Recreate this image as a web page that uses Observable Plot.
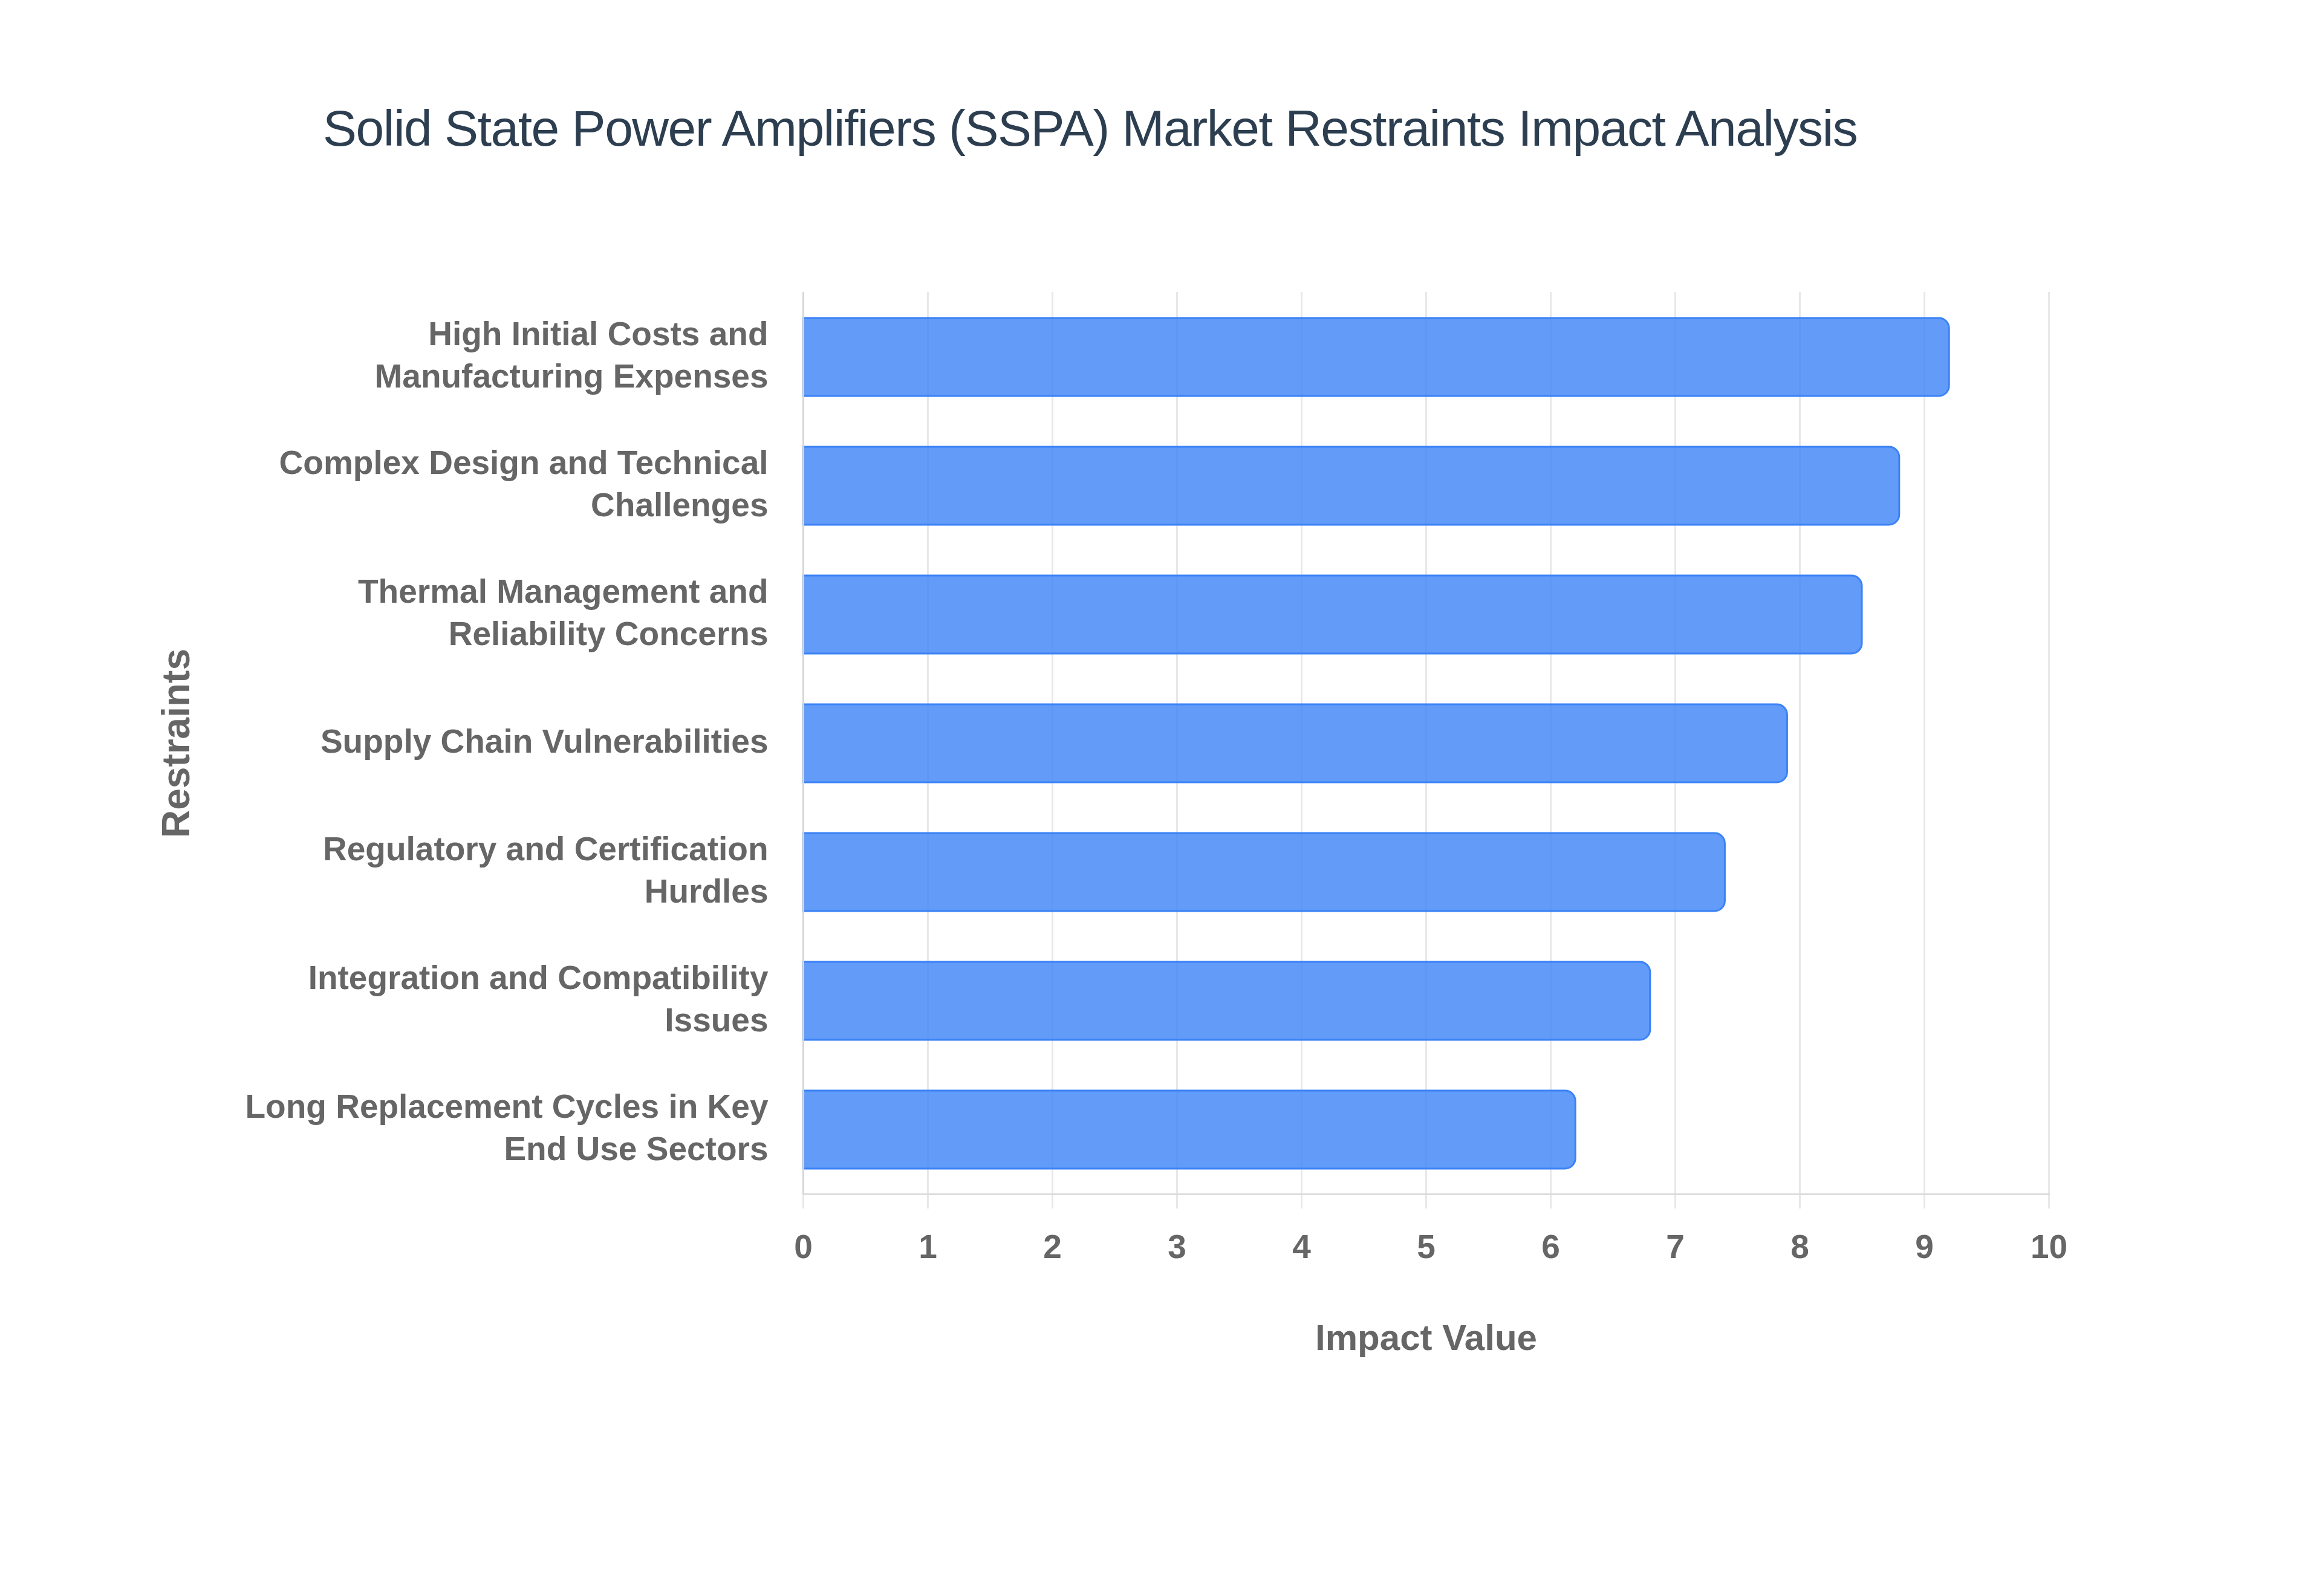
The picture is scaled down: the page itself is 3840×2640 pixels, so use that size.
<!DOCTYPE html>
<html>
<head>
<meta charset="utf-8">
<script src="https://cdn.jsdelivr.net/npm/d3@7"></script>
<script src="https://cdn.jsdelivr.net/npm/@observablehq/plot@0.6"></script>
<style>
  html, body { margin: 0; padding: 0; background: #ffffff; }
  #wrap { position: relative; width: 3840px; height: 2640px; background: #ffffff; }
  #title {
    position: absolute; left: 534px; top: 170px;
    font-family: "Liberation Sans", Arial, sans-serif;
    font-size: 84px; line-height: 1; letter-spacing: -1.5px;
    color: #2c3e50; white-space: nowrap;
  }
  #chart { position: absolute; left: 0; top: 0; }
</style>
</head>
<body>
<div id="wrap">
  <div id="chart"></div>
  <div id="title">Solid State Power Amplifiers (SSPA) Market Restraints Impact Analysis</div>
</div>
<script>
const categories = [
  "High Initial Costs and Manufacturing Expenses",
  "Complex Design and Technical Challenges",
  "Thermal Management and Reliability Concerns",
  "Supply Chain Vulnerabilities",
  "Regulatory and Certification Hurdles",
  "Integration and Compatibility Issues",
  "Long Replacement Cycles in Key End Use Sectors"
];
const impactValues = [9.2, 8.8, 8.5, 7.9, 7.4, 6.8, 6.2];
const categoryTickLabels = [
  "High Initial Costs and\nManufacturing Expenses",
  "Complex Design and Technical\nChallenges",
  "Thermal Management and\nReliability Concerns",
  "Supply Chain Vulnerabilities",
  "Regulatory and Certification\nHurdles",
  "Integration and Compatibility\nIssues",
  "Long Replacement Cycles in Key\nEnd Use Sectors"
];
const xTicks = [0, 1, 2, 3, 4, 5, 6, 7, 8, 9, 10];
const xAxisTitle = ["Impact Value"];
const yAxisTitle = ["Restraints"];

const data = categories.map((c, i) => ({category: c, value: impactValues[i]}));
const tickLabelOf = new Map(categories.map((c, i) => [c, categoryTickLabels[i]]));

const FONT = "'Liberation Sans', Arial, Helvetica, sans-serif";
const GRAY = "#666666";

const chart = Plot.plot({
  width: 3840,
  height: 2640,
  marginLeft: 1328,
  marginRight: 452,
  marginTop: 483,
  marginBottom: 665,
  style: {fontFamily: FONT, background: "#ffffff", overflow: "visible"},
  x: {domain: [0, 10]},
  y: {domain: categories, paddingInner: 0.395, paddingOuter: 0.1975},
  marks: [
    Plot.gridX(xTicks, {stroke: "#e8e8e8", strokeOpacity: 1, strokeWidth: 3}),
    Plot.axisX({
      ticks: xTicks, tickSize: 24, tickPadding: 42,
      stroke: "#e8e8e8", strokeWidth: 3, strokeOpacity: 1,
      fill: GRAY, fontSize: 55, fontWeight: "bold",
      tickFormat: d => String(d), label: null
    }),
    Plot.axisY({
      tickSize: 0, tickPadding: 58, dy: -7,
      fill: GRAY, fontSize: 55, fontWeight: "bold", lineHeight: 1.27,
      tickFormat: d => tickLabelOf.get(d), label: null
    }),
    Plot.frame({anchor: "bottom", stroke: "#dcdcdc", strokeWidth: 3}),
    Plot.barX(data, {
      x: "value", y: "category",
      fill: "#3b82f6", fillOpacity: 0.8,
      stroke: "#3b82f6", strokeWidth: 3,
      rx2: 17
    }),
    Plot.ruleX([0], {stroke: "#d6d6d6", strokeWidth: 3}),
    Plot.text(xAxisTitle, {
      frameAnchor: "bottom", dy: 238, lineAnchor: "middle", textAnchor: "middle",
      fontSize: 60, fontWeight: "bold", fill: GRAY
    }),
    Plot.text(yAxisTitle, {
      frameAnchor: "left", dx: -1036, rotate: -90, lineAnchor: "middle", textAnchor: "middle",
      fontSize: 64, fontWeight: "bold", fill: GRAY
    })
  ]
});
document.getElementById("chart").appendChild(chart);
</script>
</body>
</html>
